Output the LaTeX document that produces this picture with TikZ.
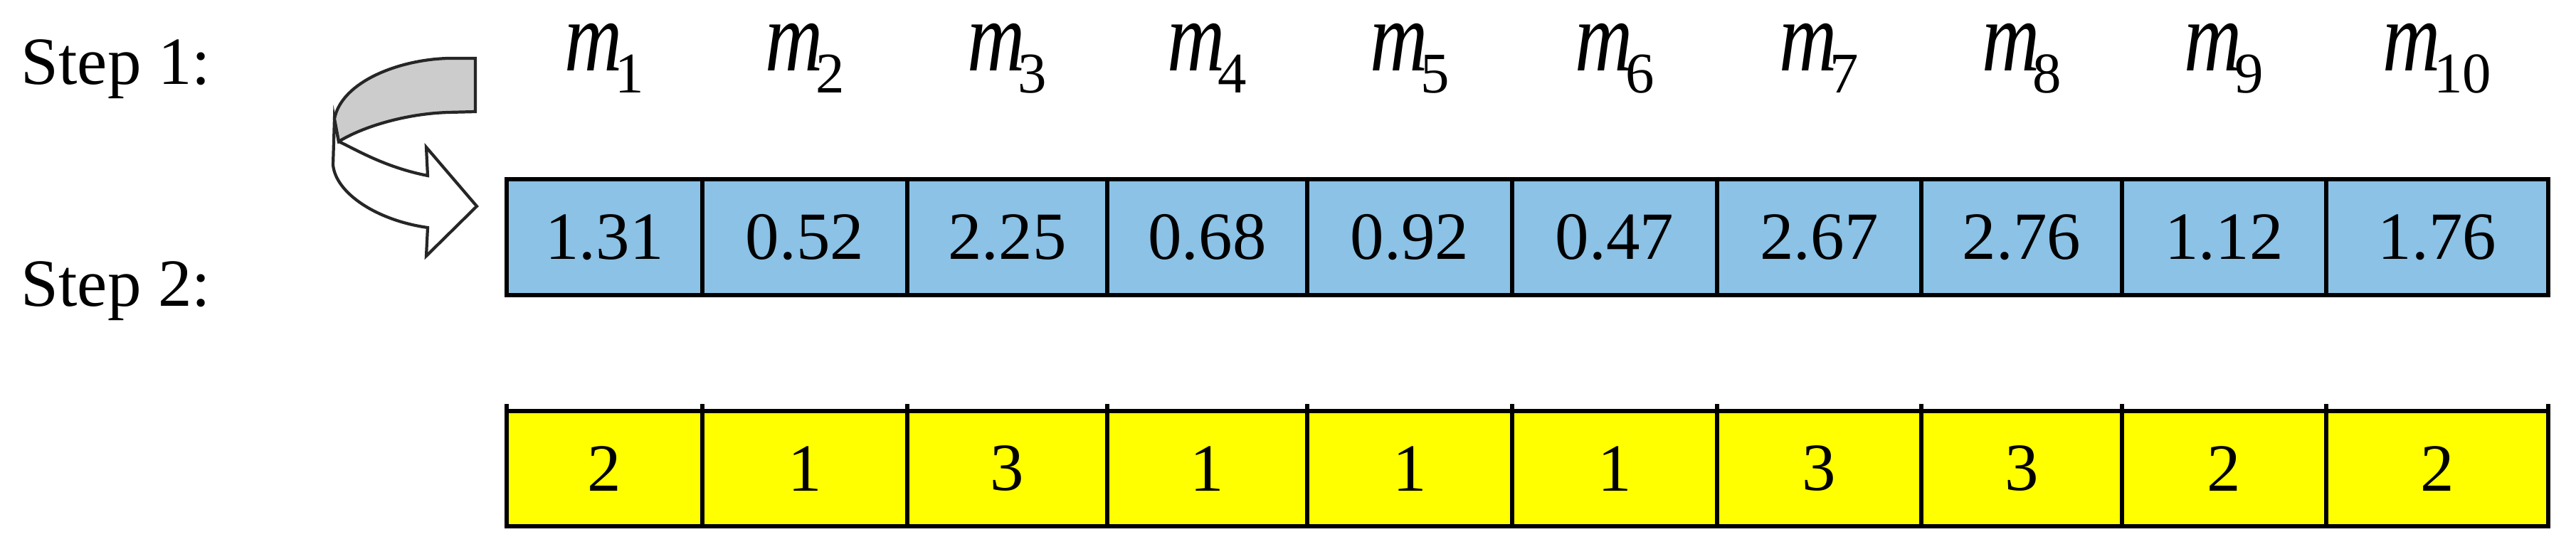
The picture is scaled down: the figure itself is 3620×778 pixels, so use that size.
\documentclass[tikz,border=0pt]{standalone}
\usepackage{fontspec}
\setmainfont{Liberation Serif}
\definecolor{cellblue}{RGB}{139,194,230}
\definecolor{cellyellow}{RGB}{255,255,0}
\definecolor{bandgray}{RGB}{204,204,204}
\newcommand\mlab[1]{\scalebox{0.8}[1]{\fontsize{40pt}{40pt}\selectfont\itshape m\/}\kern-0.1cm\raisebox{-0.31cm}{\fontsize{23pt}{23pt}\selectfont #1}}
\begin{document}
\begin{tikzpicture}[x=0.01cm,y=-0.01cm,
  cellbox/.style={draw=black, line width=1.7pt, inner sep=0pt, outer sep=0pt,
    font=\fontsize{27pt}{27pt}\selectfont},
  bluecell/.style={cellbox, fill=cellblue, minimum height=1.63cm},
  yellowcell/.style={cellbox, fill=cellyellow, minimum height=1.62cm},
  rowframe/.style={draw=black, line width=1.9pt},
  stub/.style={draw=black, line width=1.7pt},
  steplabel/.style={anchor=base west, inner sep=0pt, font=\fontsize{27pt}{27pt}\selectfont},
  mlabel/.style={anchor=base, inner sep=0pt},
  arrowline/.style={draw=black!85, line width=1.2pt, line join=miter}]
\useasboundingbox (0,0) rectangle (3620,778);

% step labels
\node[steplabel] (s1) at (29,118) {Step 1:};
\node[steplabel] (s2) at (29,430) {Step 2:};

% cells
\foreach \l/\r/\v/\k [count=\i] in {712/987/1.31/2, 987/1275/0.52/1, 1275/1556/2.25/3,
    1556/1837/0.68/1, 1837/2125/0.92/1, 2125/2413/0.47/1, 2413/2700/2.67/3,
    2700/2982/2.76/3, 2982/3269/1.12/2, 3269/3581/1.76/2} {
  \node[mlabel] (m\i) at ({(\l+\r)/2},99) {\mlab{\i}};
  \node[bluecell, minimum width={(\r-\l)*0.01cm}] (b\i) at ({(\l+\r)/2},333.5) {\v};
  \node[yellowcell, minimum width={(\r-\l)*0.01cm}] (y\i) at ({(\l+\r)/2},659) {\k};
}
\draw[rowframe] (b1.north west) rectangle (b10.south east);
\draw[rowframe] (y1.north west) rectangle (y10.south east);
\foreach \i in {1,...,10} {
  \draw[stub] (y\i.north west) -- ++(0,-10);
}
\draw[stub] (y10.north east) -- ++(0,-10);

% curved 3D arrow
\filldraw[arrowline, fill=white] (470,167) -- (468,232)
  .. controls (472,272) and (530,310) .. (601,320) -- (599,360) -- (670,290)
  -- (599,207) -- (601,247) .. controls (540,235) and (500,210) .. (476,199) -- cycle;
\filldraw[arrowline, fill=bandgray] (668,82) -- (668,157) -- (629,158)
  .. controls (570,160) and (510,178) .. (476,199) -- (470,167)
  .. controls (480,115) and (560,84) .. (629,82) -- cycle;
\end{tikzpicture}
\end{document}
